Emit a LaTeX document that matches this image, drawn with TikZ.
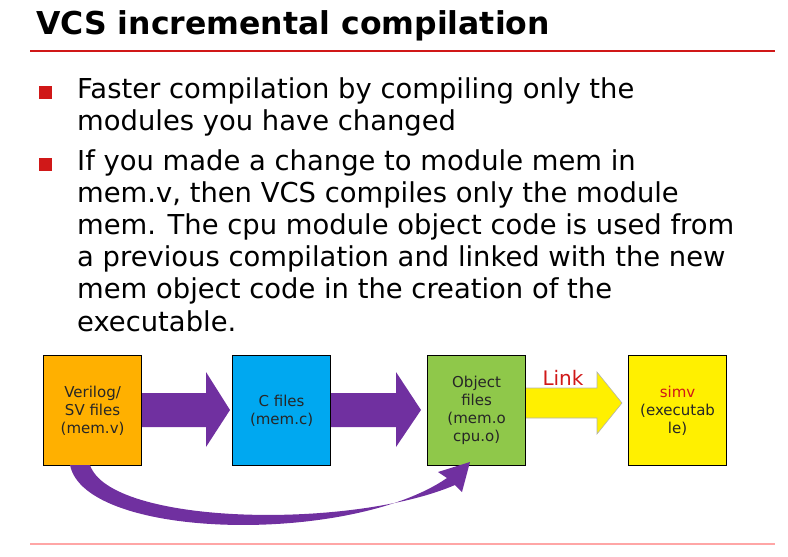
\documentclass[tikz,border=0pt]{standalone}
\usepackage{fontspec}
\setmainfont{DejaVu Sans}
\definecolor{vpurp}{HTML}{7030A0}
\definecolor{vorange}{HTML}{FFB000}
\definecolor{vblue}{HTML}{00A8F0}
\definecolor{vgreen}{HTML}{8FC84A}
\definecolor{vyellow}{HTML}{FFF000}
\definecolor{vred}{HTML}{D01818}
\begin{document}
\begin{tikzpicture}[x=1pt,y=-1pt,
  box/.style={draw=black,line width=1.2pt,minimum width=98pt,minimum height=110pt,anchor=north west,inner sep=0pt,align=center,font=\fontsize{15}{18}\selectfont,text=black!85},
  bul/.style={fill=vred,minimum size=13pt,inner sep=0pt},
  btxt/.style={anchor=north west,align=left,font=\fontsize{27.4}{32.2}\selectfont,inner sep=0pt}]
\useasboundingbox (0,0) rectangle (788,557);
\node[anchor=west,inner sep=0pt,font=\bfseries\fontsize{31.5}{33}\selectfont] (title) at (36,26) {VCS incremental compilation};
\draw[vred,line width=1.2pt] (30,51) coordinate (l1) -- (775,51) coordinate (l2);
\node[bul] (b1) at (45,92) {};
\node[btxt] (t1) at (77,77) {Faster compilation by compiling only the\\modules you have changed};
\node[bul] (b2) at (45,164) {};
\node[btxt] (t2) at (77,149) {If you made a change to module mem in\\mem.v, then VCS compiles only the module\\mem. The cpu module object code is used from\\a previous compilation and linked with the new\\mem object code in the creation of the\\executable.};
% arrows
\fill[vpurp] (141,393) -- (206,393) -- (206,372) -- (230,410) -- (206,447) -- (206,427) -- (141,427) -- cycle;
\fill[vpurp] (330,393) -- (396,393) -- (396,372) -- (421,410) -- (396,447) -- (396,427) -- (330,427) -- cycle;
\fill[vyellow,draw=gray!60,line width=0.6pt] (524,388) -- (597,388) -- (597,372) -- (622,403) -- (597,434) -- (597,418) -- (524,418) -- cycle;
\node[box,fill=vorange] (v) at (43,355) {Verilog/\\SV files\\(mem.v)};
\node[box,fill=vblue] (c) at (232,355) {C files\\(mem.c)};
\node[box,fill=vgreen] (o) at (427,355) {Object\\files\\(mem.o\\cpu.o)};
\node[box,fill=vyellow] (s) at (628,355) {\textcolor{vred}{simv}\\(executab\\le)};
\node[text=vred,font=\fontsize{20}{22}\selectfont] (lk) at (563,378) {Link};
% curved arrow
\fill[vpurp] (70,465) .. controls (85,540) and (350,545) .. (447,478)
  -- (438,472) -- (470,462) -- (462,492) -- (455,485)
  .. controls (350,530) and (110,525) .. (90,465) -- cycle;
\draw[red!35,line width=1.2pt] (30,544) coordinate (l3) -- (775,544) coordinate (l4);
\end{tikzpicture}
\end{document}
